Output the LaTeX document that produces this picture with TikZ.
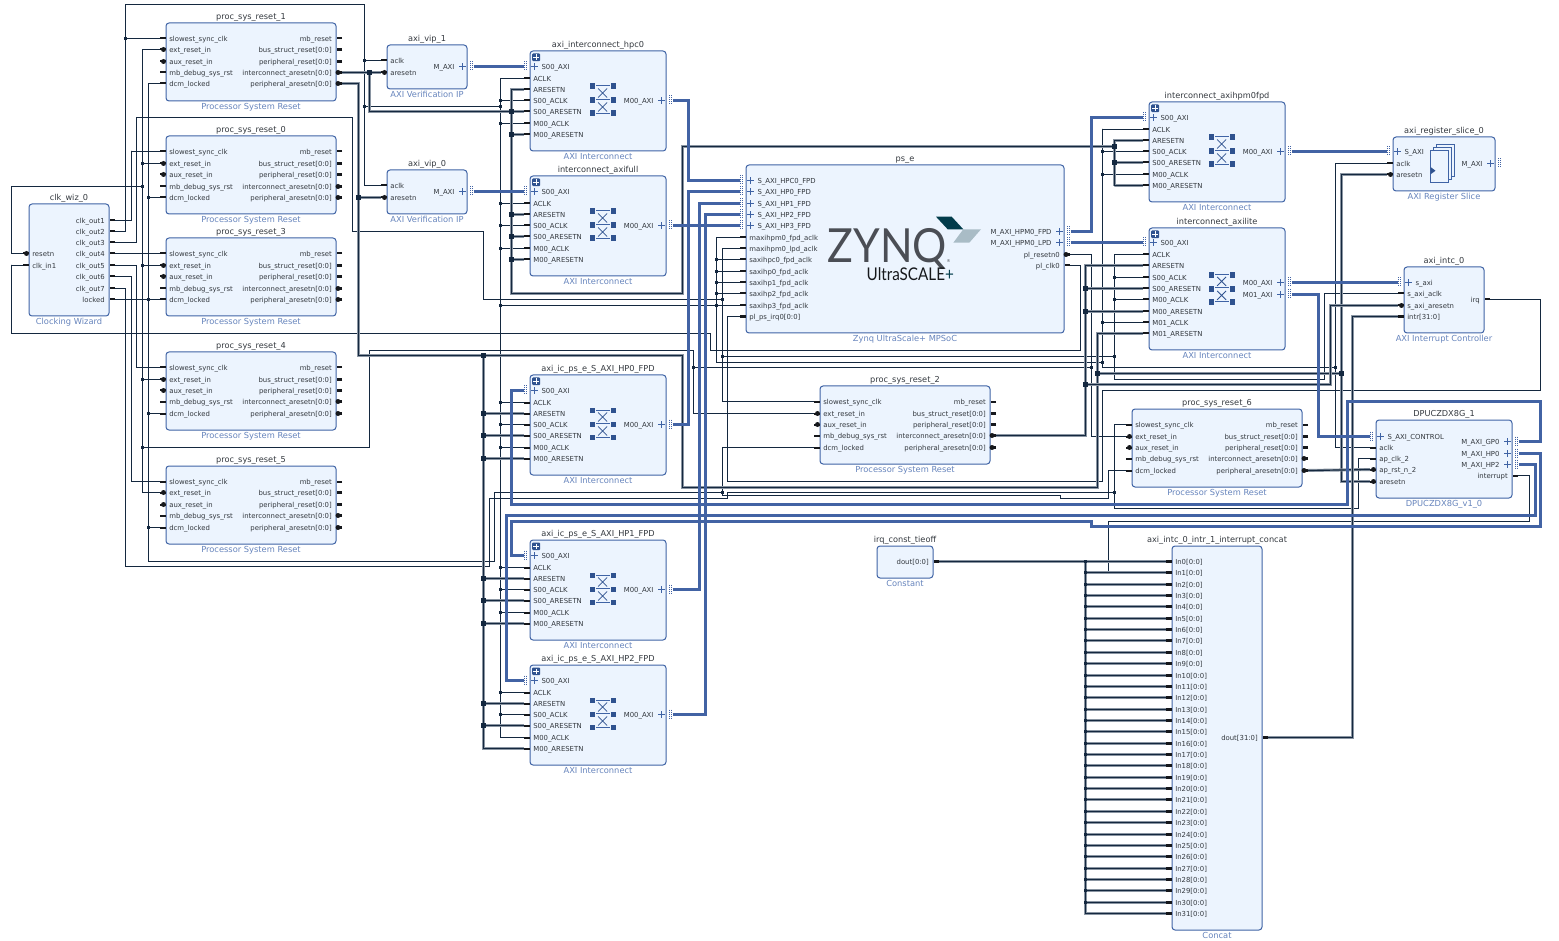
\documentclass[tikz,border=0pt]{standalone}
\usepackage{fontspec}
\setmainfont{DejaVu Sans}
\newfontfamily\logofont{Lato}
\usepackage{xcolor}
\usepackage{tikz}
\usetikzlibrary{positioning,calc}
\definecolor{wireink}{HTML}{14283F}
\definecolor{wirehalo}{HTML}{8A95A2}
\definecolor{busblue}{HTML}{4263A4}
\definecolor{boxedge}{HTML}{3F63A5}
\definecolor{boxfill}{HTML}{ECF4FE}
\definecolor{iconblue}{HTML}{2F528F}
\definecolor{pinink}{HTML}{16181C}
\definecolor{pintext}{HTML}{33383E}
\definecolor{subblue}{HTML}{6684BC}
\definecolor{logogray}{HTML}{4B4E55}
\definecolor{logoteal}{HTML}{023C4B}
\definecolor{logolight}{HTML}{A9BCC6}
\tikzset{
  blockbox/.style={rectangle,rounded corners=3pt,draw=boxedge,line width=1pt,
    fill=boxfill,anchor=north west,inner sep=0pt},
  blocktitle/.style={font=\fontsize{8.2}{9}\selectfont,text=pintext,inner sep=0pt,
    text height=6pt,text depth=2pt},
  blocksub/.style={font=\fontsize{8.3}{9}\selectfont,text=subblue,inner sep=0pt,
    text height=6pt,text depth=2pt},
  pinlabel/.style={font=\fontsize{6.9}{8}\selectfont,text=pintext,inner sep=0pt},
  stubpin/.style={draw=pinink,line width=2pt},
  barpin/.style={draw=pinink,line width=3.4pt},
  busdots/.style={draw=busblue,line width=0.8pt,dash pattern=on 1pt off 1pt},
  plusmark/.style={draw=boxedge,line width=1pt},
  wire/.style={draw=wireink,line width=1pt},
  rstwire/.style={draw=wirehalo,line width=3pt,
    postaction={draw=wireink,line width=1.2pt}},
  buswire/.style={draw=busblue,line width=3.4pt},
  jct/.style={rectangle,fill=wireink,inner sep=0pt,minimum size=3.4pt},
  jctbig/.style={rectangle,fill=wireink,inner sep=0pt,minimum size=4.6pt},
}
\newcommand{\lpin}[5][stubpin]{%
  \coordinate (#2-#3) at ([shift={(-5.5,#4)}]#2.north west);
  \draw[#1] (#2-#3) -- ++(5.5,0);
  \node[pinlabel,anchor=base west] (#2-#3-label) at ([shift={(3.6,#4+2.8)}]#2.north west) {#5};}
\newcommand{\rpin}[5][stubpin]{%
  \coordinate (#2-#3) at ([shift={(5.5,#4)}]#2.north east);
  \draw[#1] (#2-#3) -- ++(-5.5,0);
  \node[pinlabel,anchor=base east] (#2-#3-label) at ([shift={(-4.5,#4+2.8)}]#2.north east) {#5};}
\newcommand{\lpinlow}[4]{\lpin{#1}{#2}{#3}{#4}%
  \fill[pinink] ([shift={(-2,#3)}]#1.north west) circle (2.5);}
\newcommand{\rpinlow}[4]{\rpin[barpin]{#1}{#2}{#3}{#4}%
  \fill[pinink] ([shift={(1.5,#3)}]#1.north east) circle (2.5);}
\newcommand{\lbus}[4]{%
  \coordinate (#1-#2) at ([shift={(-6,#3)}]#1.north west);
  \draw[busdots] ([shift={(-5,#3-5)}]#1.north west) -- ++(0,10);
  \draw[busdots] ([shift={(-3.4,#3-5)}]#1.north west) -- ++(0,10);
  \draw[plusmark] ([shift={(1.7,#3)}]#1.north west) -- ++(6.6,0) ++(-3.3,-3.3) -- ++(0,6.6);
  \node[pinlabel,anchor=base west] (#1-#2-label) at ([shift={(11.8,#3+2.8)}]#1.north west) {#4};}
\newcommand{\rbus}[4]{%
  \coordinate (#1-#2) at ([shift={(6,#3)}]#1.north east);
  \draw[busdots] ([shift={(3,#3-5)}]#1.north east) -- ++(0,10);
  \draw[busdots] ([shift={(4.6,#3-5)}]#1.north east) -- ++(0,10);
  \draw[plusmark] ([shift={(-8.3,#3)}]#1.north east) -- ++(6.6,0) ++(-3.3,-3.3) -- ++(0,6.6);
  \node[pinlabel,anchor=base east] (#1-#2-label) at ([shift={(-12.8,#3+2.8)}]#1.north east) {#4};}
\newcommand{\blockframe}[7]{%
  \node[blockbox,minimum width=#4pt,minimum height=#5pt] (#1) at (#2,#3) {};
  \node[blocktitle,above=1pt of #1] (#1-title) {#6};
  \node[blocksub,below=1.5pt of #1] (#1-sub) {#7};}
\newcommand{\psrbox}[7]{%
  \blockframe{#1}{#2}{#3}{170}{78}{#4}{Processor System Reset}
  \lpin{#1}{clk}{16}{slowest\_sync\_clk}
  \lpinlow{#1}{ext}{#5}{ext\_reset\_in}
  \lpinlow{#1}{aux}{39}{aux\_reset\_in}
  \lpin{#1}{dbg}{#6}{mb\_debug\_sys\_rst}
  \lpin{#1}{dcm}{#7}{dcm\_locked}
  \rpin{#1}{mb}{16}{mb\_reset}
  \rpin[barpin]{#1}{bus}{#5}{bus\_struct\_reset[0:0]}
  \rpin[barpin]{#1}{per}{39}{peripheral\_reset[0:0]}
  \rpinlow{#1}{ica}{#6}{interconnect\_aresetn[0:0]}
  \rpinlow{#1}{pea}{#7}{peripheral\_aresetn[0:0]}}
\newcommand{\xbaricon}[2][0]{%
  \begin{scope}[shift={(#2.north west)},yshift=-#1pt]
    \foreach \sqx in {60,81}
      \foreach \sqy in {33,47,60}
        \fill[iconblue] (\sqx,\sqy) rectangle ++(5.7,5.7);
    \draw[boxedge,line width=0.8pt] (66.5,35.4) -- (80,35.4) (66.5,48.7) -- (80,48.7) (66.5,62.7) -- (80,62.7);
    \draw[iconblue,line width=0.8pt] (68.6,38) -- (77.6,47) (68.6,47) -- (77.6,38)
      (68.6,52) -- (77.6,61) (68.6,61) -- (77.6,52);
  \end{scope}}
\newcommand{\icframe}[5]{%
  \blockframe{#1}{#2}{#3}{136}{#4}{#5}{AXI Interconnect}
  \fill[iconblue,rounded corners=1pt] ([shift={(2.7,3)}]#1.north west) rectangle ++(8,7.6);
  \draw[white,line width=1pt] ([shift={(3.9,6.8)}]#1.north west) -- ++(5.6,0) ++(-2.8,-2.8) -- ++(0,5.6);}
\newcommand{\icpins}[7]{%
  \lpin{#1}{aclk}{#2}{ACLK}
  \lpin{#1}{arst}{#3}{ARESETN}
  \lpin{#1}{sclk}{#4}{S00\_ACLK}
  \lpin{#1}{srst}{#5}{S00\_ARESETN}
  \lpin{#1}{mclk}{#6}{M00\_ACLK}
  \lpin{#1}{mrst}{#7}{M00\_ARESETN}}
\newcommand{\icbox}[4]{%
  \icframe{#1}{#2}{#3}{100}{#4}
  \xbaricon{#1}
  \lbus{#1}{s}{16}{S00\_AXI}
  \icpins{#1}{28}{39}{50}{61}{73}{84}
  \rbus{#1}{m}{50}{M00\_AXI}}
\newcommand{\vipbox}[4]{%
  \blockframe{#1}{#2}{#3}{80}{44}{#4}{AXI Verification IP}
  \lpin{#1}{clk}{16}{aclk}
  \lpinlow{#1}{rst}{28}{aresetn}
  \rbus{#1}{m}{22}{M\_AXI}}

\begin{document}
\begin{tikzpicture}[x=1pt,y=-1pt]
  \useasboundingbox (0,0) rectangle (1559,941);

  \blockframe{wiz}{28.5}{203.5}{80}{112}{clk\_wiz\_0}{Clocking Wizard}
  \lpinlow{wiz}{rst}{50}{resetn}
  \lpin{wiz}{cin}{62}{clk\_in1}
  \foreach \off/\pinname [count=\n] in {17/o1,28/o2,39/o3,50/o4,62/o5,73/o6,85/o7}
    {\rpin{wiz}{\pinname}{\off}{clk\_out\n}}
  \rpin{wiz}{lock}{96}{locked}

  \psrbox{rst1}{165.5}{22.5}{proc\_sys\_reset\_1}{27}{50}{61}
  \psrbox{rst0}{165.5}{135.5}{proc\_sys\_reset\_0}{28}{51}{62}
  \psrbox{rst3}{165.5}{237.5}{proc\_sys\_reset\_3}{28}{51}{62}
  \psrbox{rst4}{165.5}{351.5}{proc\_sys\_reset\_4}{28}{50}{62}
  \psrbox{rst5}{165.5}{465.5}{proc\_sys\_reset\_5}{27}{50}{62}
  \psrbox{rst2}{819.5}{385.5}{proc\_sys\_reset\_2}{28}{50}{62}
  \psrbox{rst6}{1131.5}{408.5}{proc\_sys\_reset\_6}{28}{50}{62}

  \vipbox{vip1}{386.5}{44.5}{axi\_vip\_1}
  \vipbox{vip0}{386.5}{169.5}{axi\_vip\_0}

  \icbox{ichpc}{529.5}{50.5}{axi\_interconnect\_hpc0}
  \icbox{icfull}{529.5}{175.5}{interconnect\_axifull}
  \icbox{ichp0}{529.5}{374.5}{axi\_ic\_ps\_e\_S\_AXI\_HP0\_FPD}
  \icbox{ichp1}{529.5}{539.5}{axi\_ic\_ps\_e\_S\_AXI\_HP1\_FPD}
  \icbox{ichp2}{529.5}{664.5}{axi\_ic\_ps\_e\_S\_AXI\_HP2\_FPD}
  \icbox{ichpm}{1148.5}{101.5}{interconnect\_axihpm0fpd}
  \icframe{iclite}{1148.5}{227.5}{122}{interconnect\_axilite}
  \xbaricon[11.4]{iclite}
  \lbus{iclite}{s}{15}{S00\_AXI}
  \icpins{iclite}{27}{38}{50}{61}{72}{84}
  \lpin{iclite}{m1clk}{95}{M01\_ACLK}
  \lpin{iclite}{m1rst}{106}{M01\_ARESETN}
  \rbus{iclite}{m}{55}{M00\_AXI}
  \rbus{iclite}{m1}{67}{M01\_AXI}

  \blockframe{ps}{745.5}{164.5}{318}{168}{ps\_e}{Zynq UltraScale+ MPSoC}
  \lbus{ps}{hpc0}{16}{S\_AXI\_HPC0\_FPD}
  \lbus{ps}{hp0}{27}{S\_AXI\_HP0\_FPD}
  \lbus{ps}{hp1}{39}{S\_AXI\_HP1\_FPD}
  \lbus{ps}{hp2}{50}{S\_AXI\_HP2\_FPD}
  \lbus{ps}{hp3}{61}{S\_AXI\_HP3\_FPD}
  \lpin{ps}{fpdclk}{73}{maxihpm0\_fpd\_aclk}
  \lpin{ps}{lpdclk}{84}{maxihpm0\_lpd\_aclk}
  \lpin{ps}{sc0}{95}{saxihpc0\_fpd\_aclk}
  \lpin{ps}{s0}{107}{saxihp0\_fpd\_aclk}
  \lpin{ps}{s1}{118}{saxihp1\_fpd\_aclk}
  \lpin{ps}{s2}{129}{saxihp2\_fpd\_aclk}
  \lpin{ps}{s3}{141}{saxihp3\_fpd\_aclk}
  \lpin[barpin]{ps}{irq}{152}{pl\_ps\_irq0[0:0]}
  \rbus{ps}{mfpd}{67}{M\_AXI\_HPM0\_FPD}
  \rbus{ps}{mlpd}{78}{M\_AXI\_HPM0\_LPD}
  \rpinlow{ps}{rstn}{90}{pl\_resetn0}
  \rpin{ps}{clk}{101}{pl\_clk0}
  \fill[logoteal] (936,216.7) -- (951.7,216.7) -- (963.3,229.3) -- (947.7,229.3) -- cycle;
  \fill[logolight] (963.3,229.3) -- (981,229.3) -- (969.3,242.7) -- (953.3,242.7) -- cycle;
  \node[inner sep=0pt,anchor=base west,text depth=0pt,text=logogray,font=\logofont\fontsize{47}{47}\selectfont] (zynq) at (827.5,262.7) {\scalebox{0.91}[1]{ZYNQ}};
  \node[inner sep=0pt,anchor=base west,text height=10pt,text=pinink,font=\logofont\fontsize{17.5}{18}\selectfont] (ultra) at (866.5,280.7) {\scalebox{0.87}[1]{UltraSCALE\textcolor{logoteal}{+}}};
  \node[inner sep=0pt,anchor=base west,text=logogray,font=\fontsize{4}{4}\selectfont] (zynqreg) at (946.5,263) {®};

  \blockframe{regs}{1392.5}{136.5}{102}{54}{axi\_register\_slice\_0}{AXI Register Slice}
  \lbus{regs}{s}{15}{S\_AXI}
  \lpin{regs}{clk}{27}{aclk}
  \lpinlow{regs}{rst}{38}{aresetn}
  \rbus{regs}{m}{27}{M\_AXI}
  \foreach \pgoff in {6,3,0}
    \draw[boxedge,fill=boxfill,line width=0.9pt] (1430.5+\pgoff,150.5-\pgoff) rectangle ++(18,32);
  \fill[iconblue] (1430.5,167) -- (1435.5,170.7) -- (1430.5,174.4) -- cycle;

  \blockframe{intc}{1403.5}{266.5}{80}{66}{axi\_intc\_0}{AXI Interrupt Controller}
  \lbus{intc}{s}{16}{s\_axi}
  \lpin{intc}{clk}{27}{s\_axi\_aclk}
  \lpinlow{intc}{rst}{39}{s\_axi\_aresetn}
  \lpin[barpin]{intc}{intr}{50}{intr[31:0]}
  \rpin{intc}{irq}{33}{irq}

  \blockframe{dpu}{1375.5}{419.5}{136}{78}{DPUCZDX8G\_1}{DPUCZDX8G\_v1\_0}
  \lbus{dpu}{ctl}{17}{S\_AXI\_CONTROL}
  \lpin{dpu}{clk}{28}{aclk}
  \lpin{dpu}{clk2}{39}{ap\_clk\_2}
  \lpinlow{dpu}{rst2}{50}{ap\_rst\_n\_2}
  \lpinlow{dpu}{rst}{62}{aresetn}
  \rbus{dpu}{gp}{22}{M\_AXI\_GP0}
  \rbus{dpu}{hp0}{34}{M\_AXI\_HP0}
  \rbus{dpu}{hp2}{45}{M\_AXI\_HP2}
  \rpin{dpu}{int}{56}{interrupt}

  \blockframe{tie}{876.5}{545.5}{56}{32}{irq\_const\_tieoff}{Constant}
  \rpin[barpin]{tie}{out}{16}{dout[0:0]}

  \blockframe{cc}{1171.5}{545.5}{90}{384}{axi\_intc\_0\_intr\_1\_interrupt\_concat}{Concat}
  \foreach \i in {0,...,31}{
    \pgfmathsetmacro\off{round(16+\i*11.355)}
    \lpin[barpin]{cc}{i\i}{\off}{In\i[0:0]}
  }
  \rpin[barpin]{cc}{out}{192}{dout[31:0]}

  \draw[wire] (wiz-o1) -| (131.5,151) |- (rst0-clk);
  \draw[wire] (wiz-o2) -| (125.5,4.5) -| (364.5,186) |- (vip0-clk);
  \draw[wire] (vip1-clk) -| (364.5,61);
  \draw[wire] (364.5,106.5) -- (500.5,106.5);
  \draw[wire] (ichpc-aclk) -| (500.5,737) |- (ichp2-mclk);
  \draw[wire] (ps-fpdclk) -| (716.5,362.5) -| (1102.5,129) |- (ichpm-aclk);
  \draw[wire] (regs-clk) -| (1335.5,447) |- (dpu-clk);
  \draw[wire] (1335.5,367.5) -| (1102.5,362.5);
  \draw[wire] (wiz-o3) -| (136.5,117.5) -| (352.5,231.5) -| (483.5,299.5) -| (722.5,401) |- (rst2-clk);
  \draw[wire] (ps-lpdclk) -| (722.5,299.5);
  \draw[wire] (722.5,356.5) -- (1114.5,356.5);
  \draw[wire] (iclite-aclk) -| (1114.5,379.5) -| (1324.5,293.5) |- (intc-clk);
  \draw[wire] (wiz-o4) -- (rst3-clk);
  \draw[wire] (wiz-o5) -| (136.5,367) |- (rst4-clk);
  \draw[wire] (wiz-o6) -| (131.5,481) |- (rst5-clk);
  \draw[wire] (wiz-o7) -| (125.5,566.5) -| (489.5,498.5) -| (727.5,492.5) -| (1114.5,508.5) -| (1358.5,458.5) |- (dpu-clk2);
  \draw[wire] (rst6-clk) -| (1114.5,492.5);
  \draw[wire] (rst1-dcm) -| (148.5,561.5) -| (494.5,492.5) -| (722.5,447) |- (rst2-dcm);
  \draw[wire] (rst6-dcm) -| (1108.5,498.5) -| (1060.5,495.5) -| (722.5,492.5);
  \draw[wire] (ps-rstn) -| (1091.5,436) |- (rst6-ext);
  \draw[wire] (1091.5,367.5) -- (693.5,367.5);
  \draw[wire] (rst2-ext) -| (693.5,350.5) -| (369.5,447.5) -- (142.5,447.5);
  \draw[wire] (rst1-ext) -| (142.5,492) |- (rst5-ext);
  \draw[wire] (wiz-rst) -| (11.5,186.5) -- (142.5,186.5);
  \draw[wire] (ps-clk) -| (1080.5,350.5) -| (710.5,333.5) -| (11.5,265) |- (wiz-cin);
  \draw[wire] (intc-irq) -| (1540.5,390.5) -| (1102.5,481.5) -| (727.5,316.5) |- (ps-irq);
  \draw[wire] (dpu-int) -| (1529.5,521.5) -| (1108.5,572.5) |- (cc-i1);

  \foreach \x/\p [count=\n] in {125.5/rst1-clk,142.5/rst0-ext,142.5/rst3-ext,142.5/rst4-ext,
      148.5/rst0-dcm,148.5/rst3-dcm,148.5/rst4-dcm,148.5/rst5-dcm,148.5/wiz-lock,364.5/vip1-clk,
      500.5/ichpc-sclk,500.5/ichpc-mclk,500.5/icfull-aclk,500.5/icfull-sclk,500.5/icfull-mclk,500.5/ps-s3,
      500.5/ichp0-aclk,500.5/ichp0-sclk,500.5/ichp0-mclk,500.5/ichp1-aclk,500.5/ichp1-sclk,500.5/ichp1-mclk,
      500.5/ichp2-aclk,500.5/ichp2-sclk,716.5/ps-sc0,716.5/ps-s0,716.5/ps-s1,716.5/ps-s2,716.5/ps-s3,
      1102.5/ichpm-sclk,1102.5/ichpm-mclk,1102.5/iclite-m1clk,1114.5/iclite-sclk,1114.5/iclite-mclk}{
    \draw[wire] (\p) -- (\x,0 |- \p);
    \node[jct] (jclk\n) at (\x,0 |- \p) {};
  }
  \foreach \x/\y [count=\n] in {142.5/186.5,142.5/447.5,364.5/106.5,500.5/106.5,722.5/299.5,722.5/356.5,
      1114.5/356.5,1102.5/362.5,1335.5/367.5,1091.5/367.5,693.5/367.5,722.5/492.5,1114.5/492.5}
    {\node[jct] (jnet\n) at (\x,\y) {};}

  \draw[rstwire] (rst1-ica) -- (vip1-rst);
  \draw[rstwire] (ichpc-srst) -| (369.5,72.5);
  \draw[rstwire] (ichpc-arst) -| (511.5,293.5) -| (682.5,146.5) -| (1114.5,146.5);
  \draw[rstwire] (ichpm-arst) -| (1114.5,186) |- (ichpm-mrst);
  \draw[rstwire] (rst1-pea) -| (358.5,355.5) -| (682.5,487.5) -| (1097.5,333.5) |- (iclite-m1rst);
  \draw[rstwire] (ichp2-mrst) -| (483.5,355.5);
  \draw[rstwire] (1097.5,373.5) -- (1341.5,373.5);
  \draw[rstwire] (regs-rst) -| (1341.5,481) |- (dpu-rst);
  \draw[rstwire] (rst2-ica) -| (1085.5,265.5) |- (iclite-arst);
  \draw[rstwire] (intc-rst) -| (1330.5,384.5) -| (1085.5,384.5);
  \draw[rstwire] (rst6-pea) -- (dpu-rst2);
  \draw[rstwire] (cc-out) -| (1352.5,316.5) |- (intc-intr);
  \draw[rstwire] (tie-out) -- (cc-i0);
  \draw[rstwire] (cc-i31) -| (1085.5,561.5);

  \foreach \x/\p [count=\n] in {511.5/ichpc-srst,511.5/ichpc-mrst,511.5/icfull-arst,511.5/icfull-srst,511.5/icfull-mrst,
      358.5/vip0-rst,483.5/ichp0-arst,483.5/ichp0-srst,483.5/ichp0-mrst,483.5/ichp1-arst,483.5/ichp1-srst,
      483.5/ichp1-mrst,483.5/ichp2-arst,483.5/ichp2-srst,1114.5/ichpm-srst,1085.5/iclite-srst,1085.5/iclite-mrst}{
    \draw[rstwire] (\p) -- (\x,0 |- \p);
    \node[jctbig] (jrst\n) at (\x,0 |- \p) {};
  }
  \foreach \i in {0,...,30}{
    \draw[rstwire] (cc-i\i) -- (1085.5,0 |- cc-i\i);
    \node[jct] (jcc\i) at (1085.5,0 |- cc-i\i) {};
  }
  \foreach \x/\y [count=\n] in {369.5/72.5,1114.5/146.5,483.5/355.5,1097.5/373.5,1341.5/373.5,1085.5/384.5}
    {\node[jctbig] (jbig\n) at (\x,\y) {};}

  \draw[buswire] (vip1-m) -- (ichpc-s);
  \draw[buswire] (vip0-m) -- (icfull-s);
  \draw[buswire] (ichpc-m) -| (688.5,180.5) |- (ps-hpc0);
  \draw[buswire] (icfull-m) -- (ps-hp3);
  \draw[buswire] (ichp0-m) -| (688.5,191.5) |- (ps-hp0);
  \draw[buswire] (ichp1-m) -| (699.5,203.5) |- (ps-hp1);
  \draw[buswire] (ichp2-m) -| (705.5,214.5) |- (ps-hp2);
  \draw[buswire] (ps-mfpd) -| (1091.5,117.5) |- (ichpm-s);
  \draw[buswire] (ps-mlpd) -- (iclite-s);
  \draw[buswire] (ichpm-m) -- (regs-s);
  \draw[buswire] (iclite-m) -- (intc-s);
  \draw[buswire] (iclite-m1) -| (1318.5,436) |- (dpu-ctl);
  \draw[buswire] (dpu-gp) -| (1540.5,401.5) -| (1347.5,504.5) -| (511.5,390.5) |- (ichp0-s);
  \draw[buswire] (dpu-hp0) -| (1540.5,526.5) -| (1091.5,521.5) -| (511.5,555.5) |- (ichp1-s);
  \draw[buswire] (dpu-hp2) -| (1535.5,515.5) -| (506.5,680.5) |- (ichp2-s);
\end{tikzpicture}
\end{document}
